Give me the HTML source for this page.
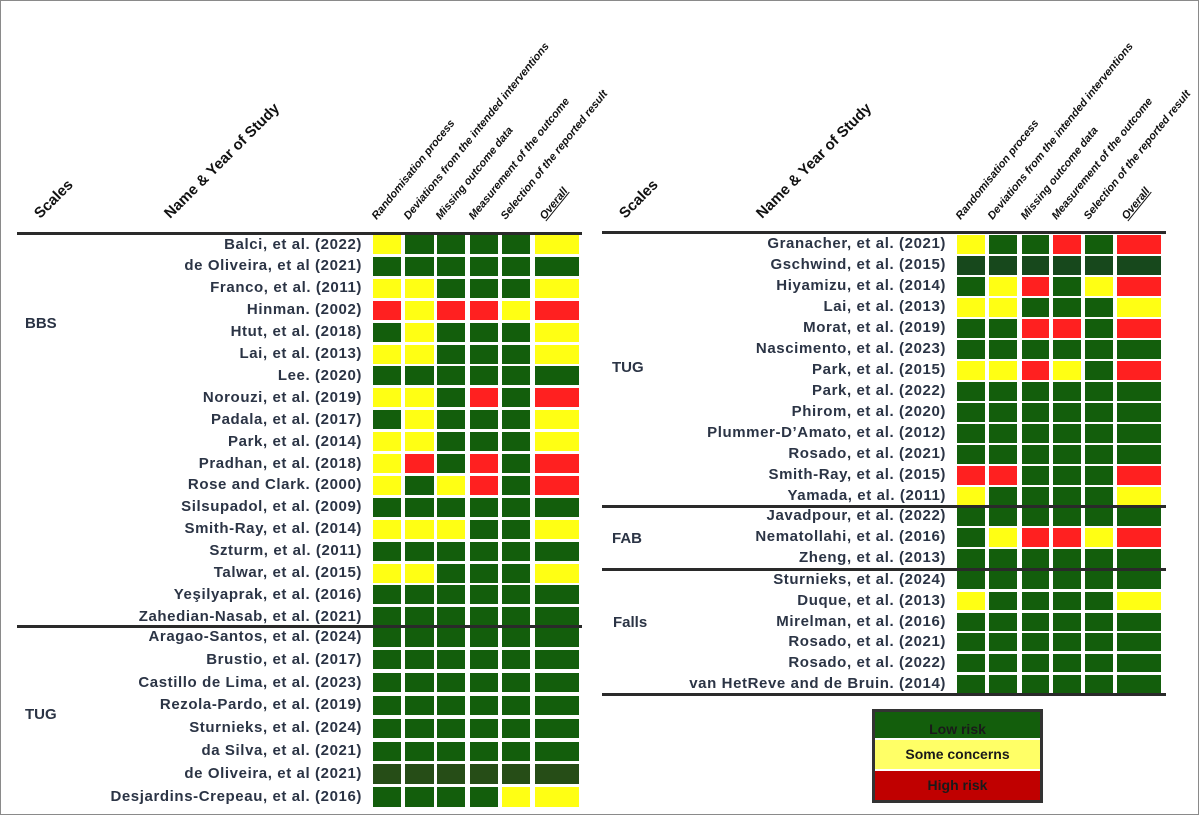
<!DOCTYPE html>
<html><head><meta charset="utf-8">
<style>
html,body{margin:0;padding:0;background:#fff;}
#page{position:relative;width:1200px;height:816px;overflow:hidden;background:#fff;font-family:"Liberation Sans",sans-serif;}
.frame{position:absolute;left:0;top:0;width:1197px;height:813px;border:1.5px solid #8a8a8a;}
.rule{position:absolute;height:3px;background:#2a2a2a;}
.cell{position:absolute;}
.lbl{position:absolute;text-align:right;font-weight:bold;font-size:15px;letter-spacing:0.6px;color:#2b3445;white-space:nowrap;line-height:16px;}
.scale{position:absolute;font-weight:bold;font-size:15px;color:#2b3445;}
.hdr{position:absolute;white-space:nowrap;transform-origin:0 100%;color:#111;}
.main{font-weight:bold;font-size:15px;transform:rotate(-45deg);line-height:16px;}
.col{font-weight:bold;font-style:italic;font-size:11px;transform:rotate(-51deg);line-height:12px;}
.legend{position:absolute;left:872px;top:709px;width:165px;height:88px;border:3px solid #333;background:#fff;}
.lg{position:absolute;left:0;width:165px;text-align:center;font-weight:bold;font-size:14px;color:#1a1a1a;}
</style></head>
<body>
<div id="page">
<div class="frame"></div>
<div class="legend">
  <div class="lg" style="top:0;height:26px;line-height:34px;background:#135e0c">Low risk</div>
  <div class="lg" style="top:28px;height:29px;line-height:29px;background:#ffff66">Some concerns</div>
  <div class="lg" style="top:59px;height:29px;line-height:29px;background:#c00000">High risk</div>
</div>
</div>
<script>
// Risk codes: G=low risk, Y=some concerns, R=high risk, D/E = dark low-risk shades
const domains = ["Randomisation process","Deviations from the intended interventions","Missing outcome data","Measurement of the outcome","Selection of the reported result","Overall"];
const bbsStudies = ["Balci, et al. (2022)","de Oliveira, et al (2021)","Franco, et al. (2011)","Hinman. (2002)","Htut, et al. (2018)","Lai, et al. (2013)","Lee. (2020)","Norouzi, et al. (2019)","Padala, et al. (2017)","Park, et al. (2014)","Pradhan, et al. (2018)","Rose and Clark. (2000)","Silsupadol, et al. (2009)","Smith-Ray, et al. (2014)","Szturm, et al. (2011)","Talwar, et al. (2015)","Yeşilyaprak, et al. (2016)","Zahedian-Nasab, et al. (2021)"];
const bbsRisk = ["YGGGGY","GGGGGG","YYGGGY","RYRRYR","GYGGGY","YYGGGY","GGGGGG","YYGRGR","GYGGGY","YYGGGY","YRGRGR","YGYRGR","GGGGGG","YYYGGY","GGGGGG","YYGGGY","GGGGGG","GGGGGG"];
const tugLStudies = ["Aragao-Santos, et al. (2024)","Brustio, et al. (2017)","Castillo de Lima, et al. (2023)","Rezola-Pardo, et al. (2019)","Sturnieks, et al. (2024)","da Silva, et al. (2021)","de Oliveira, et al (2021)","Desjardins-Crepeau, et al. (2016)"];
const tugLRisk = ["GGGGGG","GGGGGG","GGGGGG","GGGGGG","GGGGGG","GGGGGG","DDDDDD","GGGGYY"];
const tugRStudies = ["Granacher, et al. (2021)","Gschwind, et al. (2015)","Hiyamizu, et al. (2014)","Lai, et al. (2013)","Morat, et al. (2019)","Nascimento, et al. (2023)","Park, et al. (2015)","Park, et al. (2022)","Phirom, et al. (2020)","Plummer-D’Amato, et al. (2012)","Rosado, et al. (2021)","Smith-Ray, et al. (2015)","Yamada, et al. (2011)"];
const tugRRisk = ["YGGRGR","EEEEEE","GYRGYR","YYGGGY","GGRRGR","GGGGGG","YYRYGR","GGGGGG","GGGGGG","GGGGGG","GGGGGG","RRGGGR","YGGGGY"];
const fabStudies = ["Javadpour, et al. (2022)","Nematollahi, et al. (2016)","Zheng, et al. (2013)"];
const fabRisk = ["GGGGGG","GYRRYR","GGGGGG"];
const fallsStudies = ["Sturnieks, et al. (2024)","Duque, et al. (2013)","Mirelman, et al. (2016)","Rosado, et al. (2021)","Rosado, et al. (2022)","van HetReve and de Bruin. (2014)"];
const fallsRisk = ["GGGGGG","YGGGGY","GGGGGG","GGGGGG","GGGGGG","GGGGGG"];

const colors = {G:"#135e0c",Y:"#ffff14",R:"#ff2020",D:"#264d17",E:"#17481c"};
const page = document.getElementById('page');
const leftCols = [[373,401],[405,434],[437,465],[470,498],[502,530],[535,579]];
const rightCols = [[957,985],[989,1017],[1022,1049],[1053,1081],[1085,1113],[1117,1161]];

function add(cls, style, text){
  const d=document.createElement('div');
  d.className=cls; d.style.cssText=style; if(text!==undefined) d.textContent=text;
  page.appendChild(d); return d;
}
function section(studies, risks, cols, top, pitch, h, labelRight){
  studies.forEach((s,i)=>{
    const y = top + i*pitch;
    const l = add('lbl', `right:${1200-labelRight}px;top:${y+h/2-8}px;`, s);
    
    
    risks[i].split('').forEach((c,j)=>{
      const [x0,x1]=cols[j];
      const cell = add('cell', `left:${x0}px;top:${y}px;width:${x1-x0}px;height:${h}px;background:${colors[c]};`);
      
      
    });
  });
}
section(bbsStudies,bbsRisk,leftCols,235,21.9,19,362);
section(tugLStudies,tugLRisk,leftCols,627,22.9,19.5,362);
section(tugRStudies,tugRRisk,rightCols,235,21.0,18.5,946);
section(fabStudies,fabRisk,rightCols,507,21.0,18.5,946);
section(fallsStudies,fallsRisk,rightCols,571,20.8,18,946);

[[17,232,565],[17,625,565],[602,231,564],[602,505,564],[602,568,564],[602,693,564]].forEach(r=>{
  const d=add('rule',`left:${r[0]}px;top:${r[1]}px;width:${r[2]}px;`);
  
  
});

[["BBS",25,315],["TUG",25,706],["TUG",612,359],["FAB",612,530],["Falls",613,614]].forEach(s=>{
  const d=add('scale',`left:${s[1]}px;top:${s[2]}px;`,s[0]);
  
  
});

function headers(scalesX, nameX, cols){
  let d=add('hdr main',`left:${scalesX}px;top:${206}px;`,"Scales");
  
  
  d=add('hdr main',`left:${nameX}px;top:${206}px;`,"Name & Year of Study");
  
  
  domains.forEach((t,j)=>{
    const x = cols[j][0] + (j===5?12:6);
    const c=add('hdr col',`left:${x}px;top:${210}px;`);
    if(j===5){ c.innerHTML='<u>'+t+'</u>'; } else c.textContent=t;
    
    
  });
}
headers(43,173,rightCols.map(()=>0).length?leftCols:leftCols);
headers(628,765,rightCols);
</script>
</body></html>
